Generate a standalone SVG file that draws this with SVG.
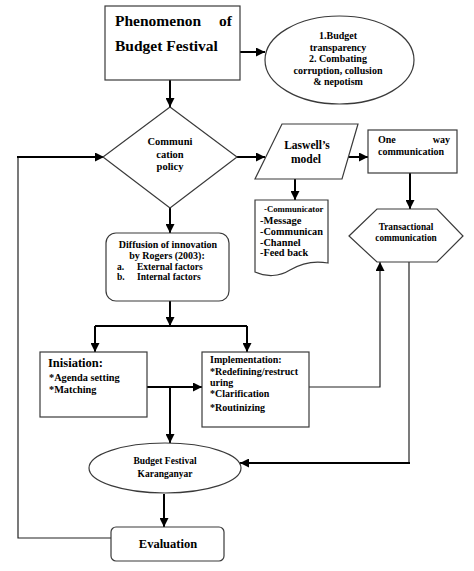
<svg xmlns="http://www.w3.org/2000/svg" width="474" height="571" viewBox="0 0 474 571">
<defs>
<marker id="ah" viewBox="0 0 10 10" refX="10" refY="5" markerWidth="9" markerHeight="9" markerUnits="userSpaceOnUse" orient="auto">
<path d="M0,0 L10,5 L0,10 Z" fill="#000"/>
</marker>
<style>
.shape{fill:#fff;stroke:#3a3a3a;stroke-width:1.2}
.t{font-family:"Liberation Serif","Times New Roman",serif;font-weight:bold;fill:#000}
.c{text-anchor:middle}
.arr{fill:none;stroke:#000;stroke-width:2;marker-end:url(#ah)}
.thin{fill:none;stroke:#222;stroke-width:1.2}
.thinarr{fill:none;stroke:#222;stroke-width:1.2;marker-end:url(#ah)}
.line{fill:none;stroke:#000;stroke-width:2}
</style>
</defs>
<rect width="474" height="571" fill="#fff"/>
<g id="connectors">
<path class="arr" d="M240,52 H265"/>
<path class="arr" d="M170,80 V107"/>
<path class="arr" d="M237,157 H265"/>
<path class="arr" d="M346,157 H368"/>
<path class="arr" d="M295,179 V200"/>
<path class="arr" d="M410,173 V209"/>
<path class="arr" d="M170,208 V233"/>
<path class="arr" d="M170,301 V326"/>
<path class="line" d="M95,326 H247"/>
<path class="arr" d="M95,326 V352"/>
<path class="arr" d="M247,326 V352"/>
<path class="arr" d="M147,387 H202"/>
<path class="arr" d="M170,387 V443"/>
<path class="thinarr" d="M243,387 H380 V262"/>
<path class="thin" d="M409,262 V463"/>
<path class="arr" d="M410,463 H240"/>
<path class="arr" d="M164,494 V527"/>
<path class="thin" d="M111,538 H18 V157"/>
<path class="arr" d="M17,157 H104"/>
</g>
<g id="phenomenon">
<rect class="shape" x="105" y="6" width="135" height="74"/>
<text class="t" x="115" y="26" font-size="15.5">Phenomenon</text>
<text class="t" x="232" y="26" font-size="15.5" text-anchor="end">of</text>
<text class="t" x="115" y="51" font-size="15.5">Budget Festival</text>
</g>
<g id="goals">
<ellipse class="shape" cx="339.5" cy="60" rx="74.5" ry="44"/>
<text class="t c" x="338" y="39" font-size="10">1.Budget</text>
<text class="t c" x="338" y="51" font-size="10">transparency</text>
<text class="t c" x="338" y="62" font-size="10">2. Combating</text>
<text class="t c" x="338" y="74" font-size="10">corruption, collusion</text>
<text class="t c" x="338" y="85" font-size="10">&amp; nepotism</text>
</g>
<g id="policy">
<polygon class="shape" points="170,107 237,157 170,208 103,157"/>
<text class="t c" x="170" y="145" font-size="10.5">Communi</text>
<text class="t c" x="170" y="158" font-size="10.5">cation</text>
<text class="t c" x="170" y="170" font-size="10.5">policy</text>
</g>
<g id="laswell">
<polygon class="shape" points="282,124 358,124 342,179 255,179"/>
<text class="t c" x="307" y="149" font-size="11.5">Laswell’s</text>
<text class="t c" x="306" y="163" font-size="11.5">model</text>
</g>
<g id="oneway">
<rect class="shape" x="368" y="130" width="89" height="43"/>
<text class="t" x="378" y="143" font-size="10">One</text>
<text class="t" x="450" y="143" font-size="10" text-anchor="end">way</text>
<text class="t" x="378" y="155" font-size="10">communication</text>
</g>
<g id="elements">
<path class="shape" d="M255,200 H328 V263 C312,260 300,264 290,270 C279,277 266,277 255,272 Z"/>
<text class="t" x="264" y="212" font-size="8.7">-Communicator</text>
<text class="t" x="260" y="224" font-size="10.5">-Message</text>
<text class="t" x="260" y="235" font-size="10.3">-Communican</text>
<text class="t" x="260" y="246" font-size="10.3">-Channel</text>
<text class="t" x="260" y="256" font-size="10.3">-Feed back</text>
</g>
<g id="transactional">
<polygon class="shape" points="349,236 377,209 437,209 463,236 437,262 377,262"/>
<text class="t c" x="406" y="230" font-size="9.3">Transactional</text>
<text class="t c" x="406" y="241" font-size="9.3">communication</text>
</g>
<g id="diffusion">
<rect class="shape" x="106" y="233" width="123" height="68" rx="10"/>
<text class="t c" x="168" y="248" font-size="10">Diffusion of innovation</text>
<text class="t c" x="167" y="259" font-size="10">by Rogers (2003):</text>
<text class="t" x="117" y="270" font-size="9.5">a.</text>
<text class="t" x="137" y="270" font-size="9.5">External factors</text>
<text class="t" x="117" y="280" font-size="9.5">b.</text>
<text class="t" x="137" y="280" font-size="9.5">Internal factors</text>
</g>
<g id="inisiation">
<rect class="shape" x="40" y="352" width="107" height="65"/>
<text class="t" x="48" y="367" font-size="12.5">Inisiation:</text>
<text class="t" x="49" y="381" font-size="10.3">*Agenda setting</text>
<text class="t" x="49" y="393" font-size="10.3">*Matching</text>
</g>
<g id="implementation">
<rect class="shape" x="202" y="352" width="107" height="75"/>
<text class="t" x="210" y="363" font-size="10">Implementation:</text>
<text class="t" x="210" y="375" font-size="10">*Redefining/restruct</text>
<text class="t" x="210" y="386" font-size="10">uring</text>
<text class="t" x="210" y="397" font-size="10">*Clarification</text>
<text class="t" x="210" y="411" font-size="10">*Routinizing</text>
</g>
<g id="festival">
<ellipse class="shape" cx="165" cy="468" rx="76" ry="25"/>
<text class="t c" x="165" y="464" font-size="9.5">Budget Festival</text>
<text class="t c" x="165" y="477" font-size="9.5">Karanganyar</text>
</g>
<g id="evaluation">
<rect class="shape" x="111" y="527" width="113" height="34" rx="5"/>
<text class="t c" x="168" y="548" font-size="12.5">Evaluation</text>
</g>
</svg>
